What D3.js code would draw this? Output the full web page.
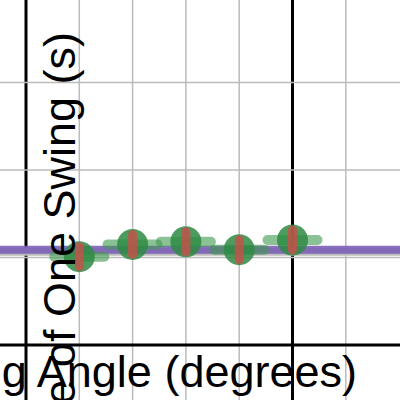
<!DOCTYPE html>
<html><head><meta charset="utf-8">
<script src="https://cdn.jsdelivr.net/npm/d3@7"></script>
<style>body{margin:0}svg{display:block;font-family:"Liberation Sans",Arial,sans-serif}</style>
</head><body><svg width="400" height="400"></svg>
<script>
// swing angle vs period
const angles = [10, 20, 30, 40, 50];
const periods = [1.01, 1.15, 1.18, 1.09, 1.20];
const fitPeriod = 1.09;
const xGrid = [0, 10, 20, 30, 40, 50, 60];
const yGrid = [0, 1, 2, 3, 4];

var svg = d3.select("svg");
var x = d3.scaleLinear().domain([0, 10]).range([26, 79.3]);
var y = d3.scaleLinear().domain([0, 1]).range([345, 257.5]);

// grid
svg.selectAll(".gx").data(xGrid).join("line")
	.attr("x1", d => x(d)).attr("x2", d => x(d)).attr("y1", 0).attr("y2", 400)
	.attr("stroke", d => (d == 0 || d == 50) ? "#000" : "#bbb")
	.attr("stroke-width", d => (d == 0 || d == 50) ? 3 : 1.5);
svg.selectAll(".gy").data(yGrid).join("line")
	.attr("y1", d => y(d)).attr("y2", d => y(d)).attr("x1", 0).attr("x2", 400)
	.attr("stroke", d => d == 0 ? "#000" : "#bbb")
	.attr("stroke-width", d => d == 0 ? 3 : 1.5);

// fit line
svg.append("line").attr("x1", 0).attr("x2", 400)
	.attr("y1", y(fitPeriod) + 2).attr("y2", y(fitPeriod) + 2)
	.attr("stroke", "#bbb").attr("stroke-width", 8);
svg.append("line").attr("x1", 0).attr("x2", 400)
	.attr("y1", y(fitPeriod)).attr("y2", y(fitPeriod))
	.attr("stroke", "#7e62b8").attr("stroke-width", 8).attr("opacity", 0.9);

var pts = angles.map((a, i) => ({a: a, p: periods[i]}));
var g = svg.selectAll(".pt").data(pts).join("g")
	.attr("transform", d => `translate(${x(d.a)},${y(d.p)})`);
g.append("line").attr("x1", -25).attr("x2", 25)
	.attr("stroke", "#3f9a4f").attr("stroke-width", 10).attr("stroke-linecap", "round").attr("opacity", 0.6);
g.append("circle").attr("r", 15.5).attr("fill", "#2e8b43").attr("opacity", 0.85);
g.append("line").attr("y1", -10).attr("y2", 10)
	.attr("stroke", "#c8504a").attr("stroke-width", 9).attr("stroke-linecap", "round").attr("opacity", 0.8);

// labels
svg.append("text").attr("x", 357).attr("y", 387).attr("text-anchor", "end")
	.attr("font-size", 45).text("Swing Angle (degrees)");
svg.append("text").attr("transform", "translate(75,32) rotate(-90)").attr("text-anchor", "end")
	.attr("font-size", 45).text("Time of One Swing (s)");
</script></body></html>
